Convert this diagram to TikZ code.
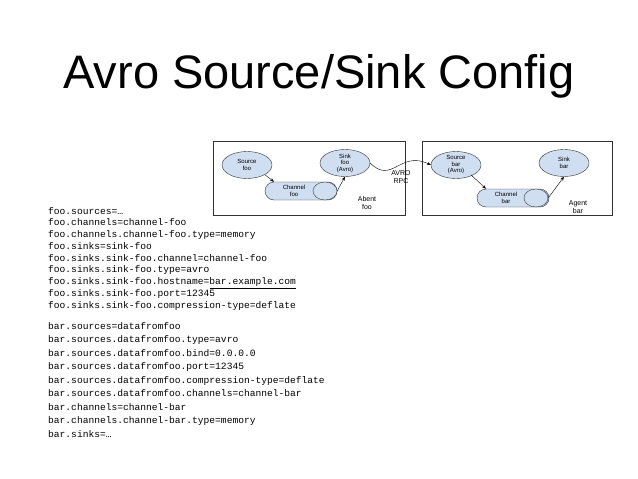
\documentclass[tikz,border=0pt]{standalone}
\usepackage{fontspec}
\setmainfont{Liberation Sans}
\newfontfamily\codefont{Liberation Mono}
\newfontfamily\diafont{Liberation Sans}
\usetikzlibrary{shapes.geometric,shapes.misc,arrows.meta}
\definecolor{nodefill}{RGB}{207,222,240}
\begin{document}
\begin{tikzpicture}[x=1pt,y=-1pt,
  agent/.style={draw=black!80,line width=0.8pt},
  ell/.style={ellipse,draw=black!80,fill=nodefill,minimum width=50pt,minimum height=27pt,inner sep=0pt,font=\diafont\fontsize{6}{6.5}\selectfont,align=center},
  chan/.style={rounded rectangle,draw=black!80,fill=nodefill,minimum width=72pt,minimum height=18pt,inner sep=0pt,font=\diafont\fontsize{6}{6.5}\selectfont,align=center},
  inner/.style={ellipse,draw=black!80,fill=nodefill,minimum width=24pt,minimum height=18pt,inner sep=0pt},
  arr/.style={-{Stealth[length=4pt]},black},
  lbl/.style={font=\diafont\fontsize{7}{8}\selectfont,align=center},
  code/.style={anchor=base west,font=\codefont\fontsize{9.6}{11}\selectfont,inner sep=0pt}]
\useasboundingbox (0,0) rectangle (638,479);
\node[font=\fontsize{47}{56}\selectfont] (title) at (319,76) {Avro Source/Sink Config};
\draw[agent] (213,141) rectangle (405,215);
\draw[agent] (422,141) rectangle (612,215);
\node[ell] (sf) at (247,165) {Source\\foo};
\node[ell] (kf) at (345,163) {Sink\\foo\\(Avro)};
\node[chan] (cf) at (301,191) {\hspace*{-14pt}Channel\\\hspace*{-14pt}foo};
\node[inner] (cfe) at (325,191) {};
\node[ell] (sb) at (456,165) {Source\\bar\\(Avro)};
\node[ell] (kb) at (564,163) {Sink\\bar};
\node[chan] (cb) at (513,198) {\hspace*{-14pt}Channel\\\hspace*{-14pt}bar};
\node[inner] (cbe) at (536,198) {};
\node[lbl] (af) at (367,203) {Abent\\foo};
\node[lbl] (ab) at (578,207) {Agent\\bar};
\node[lbl] (rpc) at (401,177) {AVRO\\RPC};
\draw[arr] (sf.south east) -- (cf.north west);
\draw[arr] (cfe.east) -- (kf.south);
\draw[arr] (sb.south east) ++(-3,0) -- (cb.north west);
\draw[arr] (cbe.east) -- (kb.south);
\draw[arr] (kf.east) .. controls (392,185) and (400,150) .. (sb.west);
\foreach \t [count=\i from 0] in {foo.sources=…,foo.channels=channel-foo,foo.channels.channel-foo.type=memory,foo.sinks=sink-foo,foo.sinks.sink-foo.channel=channel-foo,foo.sinks.sink-foo.type=avro,foo.sinks.sink-foo.hostname=\underline{bar.example.com},foo.sinks.sink-foo.port=12345,foo.sinks.sink-foo.compression-type=deflate}
  \node[code] (a\i) at (48,{214+11.75*\i}) {\t};
\foreach \t [count=\i from 0] in {bar.sources=datafromfoo,bar.sources.datafromfoo.type=avro,bar.sources.datafromfoo.bind=0.0.0.0,bar.sources.datafromfoo.port=12345,bar.sources.datafromfoo.compression-type=deflate,bar.sources.datafromfoo.channels=channel-bar,bar.channels=channel-bar,bar.channels.channel-bar.type=memory,bar.sinks=…}
  \node[code] (b\i) at (48,{329+13.5*\i}) {\t};
\end{tikzpicture}
\end{document}
